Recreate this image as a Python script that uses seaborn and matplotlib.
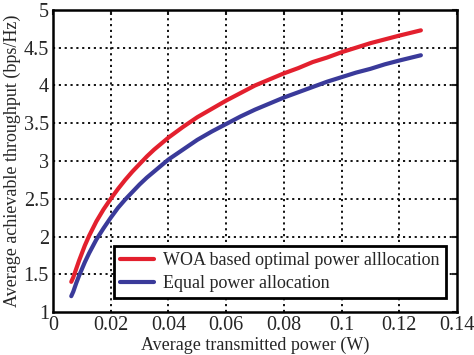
import matplotlib
matplotlib.use('Agg')
import matplotlib.pyplot as plt
import seaborn as sns
import pandas as pd

# ---- data ----
power = [0.0063, 0.007, 0.008, 0.009, 0.01, 0.011, 0.0125, 0.015, 0.0175, 0.02,
         0.0225, 0.025, 0.0275, 0.03, 0.0325, 0.035, 0.0375, 0.04, 0.045, 0.05,
         0.055, 0.06, 0.065, 0.07, 0.075, 0.08, 0.085, 0.09, 0.095, 0.1,
         0.105, 0.11, 0.115, 0.12, 0.1275]
woa = [1.40, 1.46, 1.57, 1.68, 1.78, 1.88, 2.01, 2.20, 2.36, 2.50,
       2.63, 2.75, 2.86, 2.96, 3.06, 3.15, 3.23, 3.31, 3.45, 3.58,
       3.69, 3.80, 3.90, 4.00, 4.08, 4.16, 4.23, 4.31, 4.37, 4.44,
       4.50, 4.56, 4.61, 4.66, 4.73]
equal = [1.21, 1.27, 1.38, 1.48, 1.57, 1.66, 1.78, 1.96, 2.11, 2.25,
         2.38, 2.49, 2.59, 2.69, 2.78, 2.86, 2.94, 3.02, 3.15, 3.28,
         3.39, 3.49, 3.59, 3.68, 3.76, 3.84, 3.91, 3.98, 4.05, 4.11,
         4.17, 4.22, 4.28, 4.33, 4.40]
labels = ['WOA based optimal power alllocation', 'Equal power allocation']
x_ticks = [0, 0.02, 0.04, 0.06, 0.08, 0.1, 0.12, 0.14]
x_ticklabels = ['0', '0.02', '0.04', '0.06', '0.08', '0.1', '0.12', '0.14']
y_ticks = [1, 1.5, 2, 2.5, 3, 3.5, 4, 4.5, 5]
y_ticklabels = ['1', '1.5', '2', '2.5', '3', '3.5', '4', '4.5', '5']

df = pd.DataFrame({
    'power': power * 2,
    'throughput': woa + equal,
    'scheme': [labels[0]] * len(power) + [labels[1]] * len(power),
})

sns.set_style('white')
plt.rcParams['font.family'] = ['Liberation Serif', 'DejaVu Serif']

fig = plt.figure(figsize=(4.74, 3.55), dpi=100)
ax = fig.add_axes([0.112, 0.121, 0.852, 0.851])

sns.lineplot(data=df, x='power', y='throughput', hue='scheme',
             palette=['#e3202e', '#3a3a9a'], linewidth=3.0, ax=ax, zorder=3)

# dotted MATLAB-like grid at the tick positions
for xv in x_ticks[1:-1]:
    ax.axvline(xv, color='#111111', linestyle=(0, (1.1, 1.9)), linewidth=1.4, zorder=2)
for yv in y_ticks[1:-1]:
    ax.axhline(yv, color='#111111', linestyle=(0, (1.1, 1.9)), linewidth=1.4, zorder=2)

ax.set_xlim(0, 0.14)
ax.set_ylim(1, 5)
ax.set_xticks(x_ticks)
ax.set_xticklabels(x_ticklabels)
ax.set_yticks(y_ticks)
ax.set_yticklabels(y_ticklabels)
ax.tick_params(direction='in', top=True, right=True, length=3.5, width=1.5,
               labelsize=14.5, pad=3)
for s in ax.spines.values():
    s.set_linewidth(1.8)
    s.set_color('black')

ax.set_xlabel('Average transmitted power (W)', fontsize=13, labelpad=1)
ax.set_ylabel('Average achievable throughput (bps/Hz)', fontsize=13, labelpad=2)

leg = ax.legend(loc='lower right', bbox_to_anchor=(0.973, 0.046), fontsize=13,
                frameon=True, fancybox=False, handlelength=1.9, borderaxespad=0,
                borderpad=0.35, labelspacing=0.3, handletextpad=0.5)
leg.get_frame().set_edgecolor('black')
leg.get_frame().set_linewidth(2.0)
leg.get_frame().set_alpha(1)
leg.set_zorder(5)
for line in leg.get_lines():
    line.set_linewidth(3.0)

fig.savefig('out.png', dpi=100)
